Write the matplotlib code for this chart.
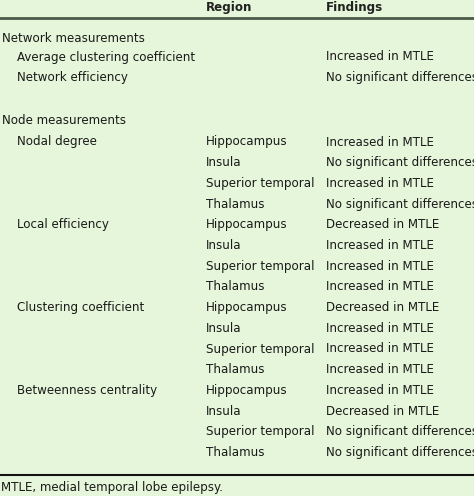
import matplotlib.pyplot as plt

BG = "#e6f6da"

headers = ["Region", "Findings"]

measures = [
    "Network measurements",
    "Average clustering coefficient",
    "Network efficiency",
    "",
    "Node measurements",
    "Nodal degree", "", "", "",
    "Local efficiency", "", "", "",
    "Clustering coefficient", "", "", "",
    "Betweenness centrality", "", "", "",
]
indent = [0, 1, 1, 0, 0] + [1] * 16
regions = ["", "", "", "", ""] + ["Hippocampus", "Insula", "Superior temporal", "Thalamus"] * 4
findings = [
    "", "Increased in MTLE", "No significant differences", "", "",
    "Increased in MTLE", "No significant differences", "Increased in MTLE", "No significant differences",
    "Decreased in MTLE", "Increased in MTLE", "Increased in MTLE", "Increased in MTLE",
    "Decreased in MTLE", "Increased in MTLE", "Increased in MTLE", "Increased in MTLE",
    "Increased in MTLE", "Decreased in MTLE", "No significant differences", "No significant differences",
]
row_y = [38, 57, 77, 98, 120] + [142 + i * 20.7 for i in range(16)]
footnote = "MTLE, medial temporal lobe epilepsy."

plt.rcParams["font.family"] = ["DejaVu Sans"]

fig = plt.figure(figsize=(4.74, 4.96), dpi=100, facecolor=BG)
ax = fig.add_axes([0, 0, 1, 1])
ax.set_facecolor(BG)
ax.set_xlim(0, 474)
ax.set_ylim(496, 0)
ax.axis("off")

fs = 8.6
ax.text(206, 8, headers[0], fontsize=fs, fontweight="bold", va="center", color="#222222")
ax.text(326, 8, headers[1], fontsize=fs, fontweight="bold", va="center", color="#222222")
ax.axhline(18, color="#4a5a48", lw=2)

for y, m, ind, r, f in zip(row_y, measures, indent, regions, findings):
    ax.text(2 + 15 * ind, y, m, fontsize=fs, va="center", color="#1a1a1a")
    ax.text(206, y, r, fontsize=fs, va="center", color="#1a1a1a")
    ax.text(326, y, f, fontsize=fs, va="center", color="#1a1a1a")

ax.axhline(475, color="#111111", lw=1.5)
ax.text(1, 487, footnote, fontsize=fs, va="center", color="#1a1a1a")

fig.savefig("out.png", dpi=100, facecolor=BG)
